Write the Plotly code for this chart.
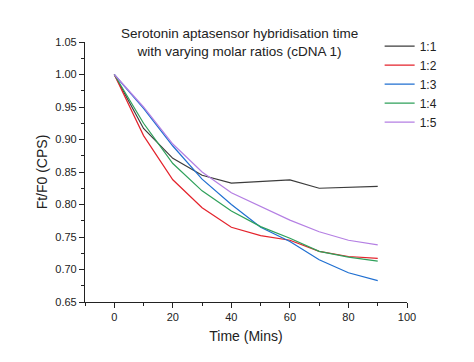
import plotly.graph_objects as go

time = [0, 10, 20, 30, 40, 50, 60, 70, 80, 90]
r11 = [1.000, 0.917, 0.871, 0.845, 0.833, 0.835, 0.838, 0.825, 0.827, 0.828]
r12 = [1.000, 0.906, 0.838, 0.795, 0.765, 0.752, 0.745, 0.728, 0.720, 0.717]
r13 = [1.000, 0.948, 0.890, 0.839, 0.800, 0.765, 0.743, 0.715, 0.695, 0.683]
r14 = [1.000, 0.925, 0.863, 0.821, 0.790, 0.766, 0.748, 0.728, 0.719, 0.713]
r15 = [1.000, 0.950, 0.893, 0.850, 0.818, 0.797, 0.776, 0.758, 0.745, 0.738]
names = ["1:1", "1:2", "1:3", "1:4", "1:5"]
colors = ["#3c3c3c", "#e4222b", "#1f6fd1", "#2ea05a", "#b47fe3"]

fig = go.Figure()
for n, ys, c in zip(names, [r11, r12, r13, r14, r15], colors):
    fig.add_trace(go.Scatter(x=time, y=ys, mode="lines", name=n,
                             line=dict(color=c, width=1.2)))

font = "Liberation Sans, Arial, sans-serif"
fig.update_layout(
    width=474, height=362,
    margin=dict(l=77, r=75, t=34, b=68, autoexpand=False),
    paper_bgcolor="white", plot_bgcolor="white",
    font=dict(family=font, size=11, color="#222"),
    showlegend=True,
    legend=dict(x=0.915, y=1.04, xanchor="left", yanchor="top",
                font=dict(size=12, color="#222"), bgcolor="rgba(0,0,0,0)",
                tracegroupgap=0, itemwidth=30),
    annotations=[dict(text="Serotonin aptasensor hybridisation time<br>with varying molar ratios (cDNA 1)",
                      xref="paper", yref="paper", x=0.48, y=1.0, xanchor="center",
                      yanchor="middle", showarrow=False,
                      font=dict(size=13.5, color="#222"))],
)
fig.update_xaxes(range=[-10, 100], dtick=20, tick0=0, ticks="outside", ticklen=5,
                 showline=True, linecolor="#222", linewidth=1.2, showgrid=False,
                 zeroline=False, tickcolor="#222",
                 minor=dict(dtick=10, tick0=0, ticks="outside", ticklen=3, tickcolor="#222"),
                 title=dict(text="Time (Mins)", font=dict(size=14), standoff=8))
fig.update_yaxes(range=[0.65, 1.05], dtick=0.05, tick0=0.65, tickformat=".2f",
                 ticks="outside", ticklen=5,
                 showline=True, linecolor="#222", linewidth=1.2, showgrid=False,
                 zeroline=False, tickcolor="#222",
                 minor=dict(dtick=0.025, tick0=0.65, ticks="outside", ticklen=3, tickcolor="#222"),
                 title=dict(text="Ft/F0 (CPS)", font=dict(size=14), standoff=4))
fig.write_html("out.html")
